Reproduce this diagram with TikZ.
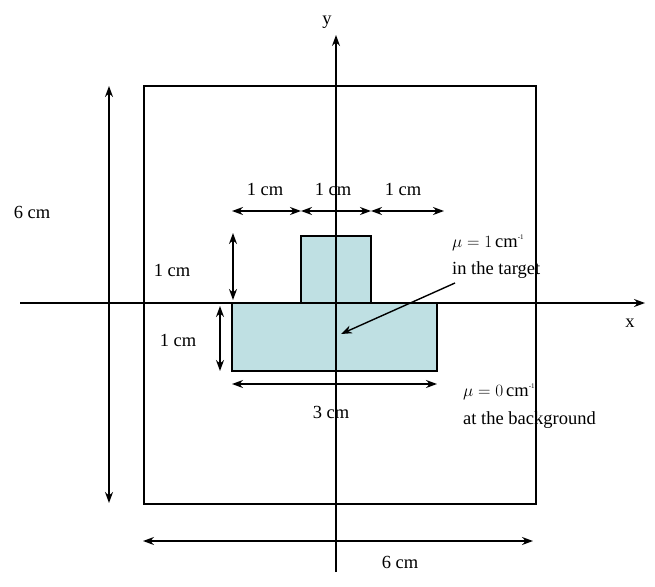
\documentclass[tikz,border=0pt]{standalone}
\usepackage{fontspec}
\setmainfont{Liberation Serif}
\usetikzlibrary{arrows.meta}
\begin{document}
\begin{tikzpicture}[x=1pt,y=-1pt,
  dim/.style={{Stealth[length=11pt,width=8pt]}-{Stealth[length=11pt,width=8pt]},line width=1.4pt},
  ax/.style={-{Stealth[length=11pt,width=8pt]},line width=1.2pt},
  lbl/.style={font=\fontsize{18.5}{21}\selectfont,inner sep=0pt},
  tgt/.style={draw,line width=1.2pt,fill={rgb,255:red,191;green,224;blue,227}}]
\useasboundingbox (0,0) rectangle (655,586);
\draw[line width=1.2pt] (144,86) rectangle (536,504);
\draw[tgt] (232,303) rectangle (437,371);
\draw[tgt] (301,236) rectangle (371,303);
\coordinate (xs) at (20,303); \coordinate (xe) at (645,303);
\coordinate (ys) at (336,572); \coordinate (ye) at (336,35);
\draw[ax] (xs) -- (xe);
\draw[ax] (ys) -- (ye);
\node[lbl] (xl) at (630,323) {x};
\node[lbl] (yl) at (327,22) {y};
\coordinate (a1) at (232,211); \coordinate (a2) at (301,211);
\coordinate (a3) at (371,211); \coordinate (a4) at (444,211);
\draw[dim] (a1) -- (a2); \draw[dim] (a2) -- (a3); \draw[dim] (a3) -- (a4);
\node[lbl] (l1) at (265,189) {1 cm};
\node[lbl] (l2) at (333,189) {1 cm};
\node[lbl] (l3) at (403,189) {1 cm};
\coordinate (v1) at (233,233); \coordinate (v2) at (233,300);
\draw[dim] (v1) -- (v2);
\node[lbl] (l4) at (172,270) {1 cm};
\coordinate (v3) at (220,306); \coordinate (v4) at (220,371);
\draw[dim] (v3) -- (v4);
\node[lbl] (l5) at (178,340) {1 cm};
\coordinate (h1) at (232,384); \coordinate (h2) at (437,384);
\draw[dim] (h1) -- (h2);
\node[lbl] (l6) at (331,412) {3 cm};
\coordinate (s1) at (109,86); \coordinate (s2) at (109,503);
\draw[dim] (s1) -- (s2);
\node[lbl] (l7) at (32,212) {6 cm};
\coordinate (b1) at (143,541); \coordinate (b2) at (533,541);
\draw[dim] (b1) -- (b2);
\node[lbl] (l8) at (400,562) {6 cm};
\node[lbl,anchor=west] (m1) at (452,243) {$\mu=1\,$cm\raisebox{1ex}{\scriptsize -1}};
\node[lbl,anchor=west] (m2) at (452,270) {in the target};
\node[lbl,anchor=west] (m3) at (463,392) {$\mu=0\,$cm\raisebox{1ex}{\scriptsize -1}};
\node[lbl,anchor=west] (m4) at (463,420) {at the background};
\coordinate (pa) at (455,283); \coordinate (pb) at (341,334);
\draw[ax,line width=1.4pt] (pa) -- (pb);
\end{tikzpicture}
\end{document}
